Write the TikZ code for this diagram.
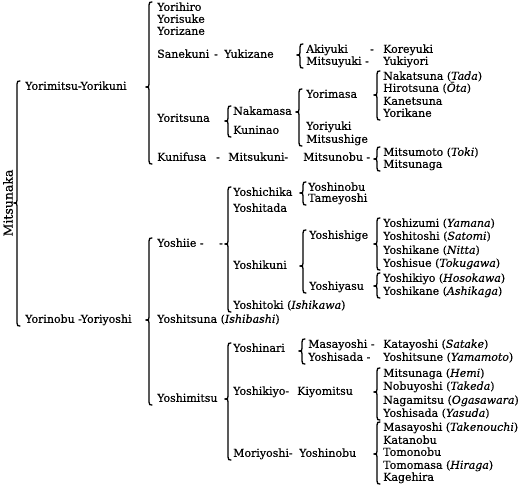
\documentclass[tikz,border=0pt]{standalone}
\usepackage{fontspec}
\setmainfont{DejaVu Serif}[FakeBold=0.4]
\usetikzlibrary{calc}
\newcommand\kinbrace[5]{%
\draw[brc] let \p1=(#2.center), \p2=(#3.center), \p3=(#4.center),
  \n1={#1}, \n2={\y1+6pt}, \n3={\y2-6pt}, \n4={\y3-(#5)*1pt} in
  (\n1+3,\n2) .. controls (\n1+0.5,\n2) .. (\n1,\n2-3) -- (\n1,\n4+3)
  .. controls (\n1,\n4+0.5) .. (\n1-3.2,\n4) .. controls (\n1,\n4-0.5) .. (\n1,\n4-3)
  -- (\n1,\n3+3) .. controls (\n1+0.5,\n3) .. (\n1+3,\n3);}
\begin{document}
\begin{tikzpicture}[x=1pt,y=1pt,
  nm/.style={anchor=west,inner sep=0pt,text height=7.8pt,text depth=2.2pt,font=\fontsize{11}{12}\selectfont},
  brc/.style={line width=1.3pt,line cap=round,line join=round}]
\useasboundingbox (0,0) rectangle (518,-484);
% root
\node[inner sep=0pt,rotate=90,font=\fontsize{12.5}{13}\selectfont] (mitsunaka) at (8,-203) {Mitsunaka};
\node[nm] (yorikuni) at (25,-87) {Yorimitsu-Yorikuni};
\node[nm] (yoriyoshi) at (25,-320) {Yorinobu -Yoriyoshi};
% Yorikuni children
\node[nm] (yorihiro) at (157,-8) {Yorihiro};
\node[nm] (yorisuke) at (157,-20) {Yorisuke};
\node[nm] (yorizane) at (157,-32) {Yorizane};
\node[nm] (sanekuni) at (157,-55) {Sanekuni};
\node[nm] (d1) at (214,-55) {-};
\node[nm] (yukizane) at (224,-55) {Yukizane};
\node[nm] (yoritsuna) at (157,-119) {Yoritsuna};
\node[nm] (kunifusa) at (157,-158) {Kunifusa};
\node[nm] (d2) at (216,-158) {-};
\node[nm] (mitsukuni) at (228,-158) {Mitsukuni-};
\node[nm] (mitsunobu) at (303,-158) {Mitsunobu -};
% Yukizane children
\node[nm] (akiyuki) at (306,-50) {Akiyuki};
\node[nm] (d3) at (370,-50) {-};
\node[nm] (koreyuki) at (383,-50) {Koreyuki};
\node[nm] (mitsuyuki) at (306,-62) {Mitsuyuki -};
\node[nm] (yukiyori) at (383,-62) {Yukiyori};
% Yoritsuna line
\node[nm] (nakamasa) at (233,-112) {Nakamasa};
\node[nm] (kuninao) at (233,-131) {Kuninao};
\node[nm] (yorimasa) at (306,-95) {Yorimasa};
\node[nm] (yoriyuki) at (306,-127) {Yoriyuki};
\node[nm] (mitsushige) at (306,-140) {Mitsushige};
\node[nm] (nakatsuna) at (383,-77) {Nakatsuna (\textit{Tada})};
\node[nm] (hirotsuna) at (383,-89) {Hirotsuna (\textit{Ōta})};
\node[nm] (kanetsuna) at (383,-102) {Kanetsuna};
\node[nm] (yorikane) at (383,-114) {Yorikane};
\node[nm] (mitsumoto) at (383,-153) {Mitsumoto (\textit{Toki})};
\node[nm] (mitsunagaA) at (383,-165) {Mitsunaga};
% Yoriyoshi children
\node[nm] (yoshiie) at (157,-244) {Yoshiie -};
\node[nm] (d4) at (219,-244) {-};
\node[nm] (yoshitsuna) at (157,-320) {Yoshitsuna (\textit{Ishibashi})};
\node[nm] (yoshimitsu) at (157,-399) {Yoshimitsu};
% Yoshiie children
\node[nm] (yoshichika) at (233,-193) {Yoshichika};
\node[nm] (yoshitada) at (233,-209) {Yoshitada};
\node[nm] (yoshikuni) at (233,-266) {Yoshikuni};
\node[nm] (yoshitoki) at (233,-306) {Yoshitoki (\textit{Ishikawa})};
\node[nm] (yoshinobuA) at (308,-188) {Yoshinobu};
\node[nm] (tameyoshi) at (308,-199) {Tameyoshi};
\node[nm] (yoshishige) at (309,-236) {Yoshishige};
\node[nm] (yoshiyasu) at (309,-287) {Yoshiyasu};
\node[nm] (yoshizumi) at (383,-224) {Yoshizumi (\textit{Yamana})};
\node[nm] (yoshitoshi) at (383,-237) {Yoshitoshi (\textit{Satomi})};
\node[nm] (yoshikaneA) at (383,-251) {Yoshikane (\textit{Nitta})};
\node[nm] (yoshisue) at (383,-264) {Yoshisue (\textit{Tokugawa})};
\node[nm] (yoshikiyoA) at (383,-279) {Yoshikiyo (\textit{Hosokawa})};
\node[nm] (yoshikaneB) at (383,-292) {Yoshikane (\textit{Ashikaga})};
% Yoshimitsu children
\node[nm] (yoshinari) at (233,-349) {Yoshinari};
\node[nm] (yoshikiyoB) at (233,-392) {Yoshikiyo-};
\node[nm] (kiyomitsu) at (297,-392) {Kiyomitsu};
\node[nm] (moriyoshi) at (233,-454) {Moriyoshi-};
\node[nm] (yoshinobuB) at (299,-454) {Yoshinobu};
\node[nm] (masayoshiA) at (308,-345) {Masayoshi -};
\node[nm] (katayoshi) at (383,-345) {Katayoshi (\textit{Satake})};
\node[nm] (yoshisadaA) at (308,-358) {Yoshisada -};
\node[nm] (yoshitsune) at (383,-358) {Yoshitsune (\textit{Yamamoto})};
\node[nm] (mitsunagaB) at (383,-374) {Mitsunaga (\textit{Hemi})};
\node[nm] (nobuyoshi) at (383,-387) {Nobuyoshi (\textit{Takeda})};
\node[nm] (nagamitsu) at (383,-401) {Nagamitsu (\textit{Ogasawara})};
\node[nm] (yoshisadaB) at (383,-414) {Yoshisada (\textit{Yasuda})};
\node[nm] (masayoshiB) at (383,-428) {Masayoshi (\textit{Takenouchi})};
\node[nm] (katanobu) at (383,-441) {Katanobu};
\node[nm] (tomonobu) at (383,-453) {Tomonobu};
\node[nm] (tomomasa) at (383,-466) {Tomomasa (\textit{Hiraga})};
\node[nm] (kagehira) at (383,-478) {Kagehira};
% braces
\kinbrace{17}{yorikuni}{yoriyoshi}{mitsunaka}{0}
\kinbrace{149}{yorihiro}{kunifusa}{yorikuni}{0}
\kinbrace{300}{akiyuki}{mitsuyuki}{yukizane}{0}
\kinbrace{228}{nakamasa}{kuninao}{yoritsuna}{2}
\kinbrace{299}{yorimasa}{mitsushige}{nakamasa}{0}
\kinbrace{377}{nakatsuna}{yorikane}{yorimasa}{0}
\kinbrace{377}{mitsumoto}{mitsunagaA}{mitsunobu}{1}
\kinbrace{149}{yoshiie}{yoshimitsu}{yoriyoshi}{0}
\kinbrace{228}{yoshichika}{yoshitoki}{yoshiie}{0}
\kinbrace{303}{yoshinobuA}{tameyoshi}{yoshichika}{0}
\kinbrace{303}{yoshishige}{yoshiyasu}{yoshikuni}{0}
\kinbrace{377}{yoshizumi}{yoshisue}{yoshishige}{8}
\kinbrace{377}{yoshikiyoA}{yoshikaneB}{yoshiyasu}{-1}
\kinbrace{228}{yoshinari}{moriyoshi}{yoshimitsu}{0}
\kinbrace{302}{masayoshiA}{yoshisadaA}{yoshinari}{2}
\kinbrace{377}{mitsunagaB}{yoshisadaB}{kiyomitsu}{0}
\kinbrace{377}{masayoshiB}{kagehira}{yoshinobuB}{0}
\end{tikzpicture}
\end{document}
